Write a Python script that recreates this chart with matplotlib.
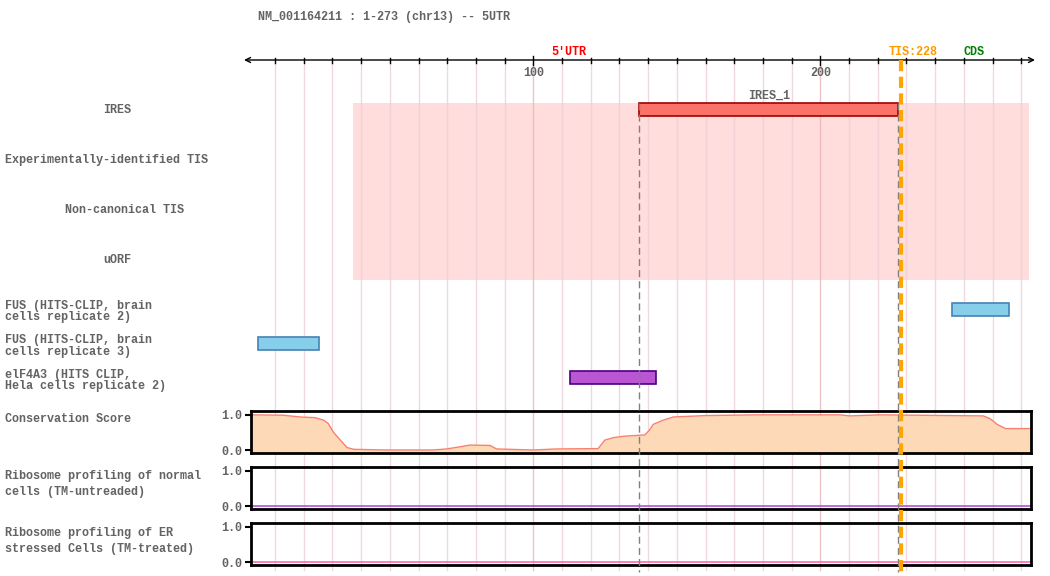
import matplotlib
matplotlib.use("Agg")
import matplotlib.pyplot as plt
from matplotlib.patches import Rectangle

W, H = 1050, 576
X0_PX = 246.3      # pixel of position 0
PX_PER = 2.87      # pixels per nucleotide

# ---- data ----
title = "NM_001164211 : 1-273 (chr13) -- 5UTR"
tick_pos = list(range(10, 280, 10))
tick_labels = {100: "100", 200: "200"}
tis_pos = 228
ires_start, ires_end = 137, 227
region_start, region_end = 37.3, 272.7

fus2 = (245.8, 265.9)
fus3 = (4.2, 25.2)
eif4a3 = (112.9, 142.9)

cons_pos = [1.5, 12.8, 18.7, 24, 26.9, 28.5, 30.4, 32.8, 35.1, 37.4, 48.9, 65,
            69.8, 74.4, 77.9, 84.9, 87.2, 100, 108, 122.6, 124.9, 127.8, 131.3,
            137, 138.9, 140.6, 141.8, 145.3, 148.8, 160.4, 177.8, 206.9, 210.3,
            220.8, 256.8, 259.2, 261.6, 264.5, 273]
cons_val = [1.0, 0.99, 0.94, 0.92, 0.85, 0.76, 0.50, 0.28, 0.07, 0.02, 0.0, 0.0,
            0.03, 0.09, 0.14, 0.13, 0.03, 0.0, 0.03, 0.04, 0.28, 0.35, 0.39,
            0.42, 0.43, 0.58, 0.73, 0.85, 0.94, 0.98, 1.0, 1.0, 0.97,
            1.0, 0.97, 0.89, 0.73, 0.61, 0.61]
ribo_pos = [1.5, 273]
ribo_normal = [0.0, 0.0]
ribo_er = [0.0, 0.0]

FONT = "Liberation Mono"
GREY = "#636363"
FS = 8.5


def px2data(px):
    return (px - X0_PX) / PX_PER


def ftext(x, y, s, **kw):
    kw.setdefault("color", GREY)
    kw.setdefault("fontsize", FS)
    kw.setdefault("family", FONT)
    kw.setdefault("fontweight", "bold")
    kw.setdefault("va", "center")
    fig.text(x / W, 1 - (y + 1) / H, s, **kw)


fig = plt.figure(figsize=(W / 100, H / 100), dpi=100)

xlim_full = (px2data(0), px2data(W))

# background axes: full figure, x in nucleotides, y in pixels
bg = fig.add_axes([0, 0, 1, 1], zorder=0)
bg.set_xlim(*xlim_full)
bg.set_ylim(H, 0)
bg.axis("off")

# shaded 5'UTR region
bg.add_patch(Rectangle((region_start, 103), region_end - region_start, 177,
                       facecolor="#ffdddd", edgecolor="none", zorder=1))

# grid lines
for p in tick_pos:
    c = "#eab4b8" if p in tick_labels else "#eccfd5"
    bg.plot([p, p], [60, 570], color=c, lw=1, alpha=0.8, zorder=2)

# axis with arrows
bg.annotate("", xy=(px2data(1035), 60), xytext=(px2data(244), 60),
            arrowprops=dict(arrowstyle="<->", lw=1, color="black",
                            mutation_scale=9, shrinkA=0, shrinkB=0), zorder=5)
for p in tick_pos:
    if p in tick_labels:
        bg.plot([p, p], [56, 65], color="black", lw=1, zorder=5)
        bg.text(p, 73, tick_labels[p], ha="center", va="center", color=GREY,
                fontsize=FS, family=FONT, fontweight="bold")
    else:
        bg.plot([p, p], [58, 63], color="black", lw=1, zorder=5)

# feature bars
bg.add_patch(Rectangle((ires_start, 103), ires_end - ires_start, 13,
                       facecolor="#fa7268", edgecolor="#a00000", lw=1.2, zorder=4))
bg.text((ires_start + ires_end) / 2, 96, "IRES_1", ha="center", va="center",
        color=GREY, fontsize=FS, family=FONT, fontweight="bold")
bg.add_patch(Rectangle((fus2[0], 303.3), fus2[1] - fus2[0], 13,
                       facecolor="#87ceeb", edgecolor="#4682b4", lw=1.2, zorder=4))
bg.add_patch(Rectangle((fus3[0], 337.3), fus3[1] - fus3[0], 13,
                       facecolor="#87ceeb", edgecolor="#4682b4", lw=1.2, zorder=4))
bg.add_patch(Rectangle((eif4a3[0], 371.3), eif4a3[1] - eif4a3[0], 13,
                       facecolor="#ba55d3", edgecolor="#4b0082", lw=1.2, zorder=4))


# signal panels
def panel(top, bottom):
    left, right = 250.7, 1030.7
    a = fig.add_axes([left / W, 1 - bottom / H, (right - left) / W, (bottom - top) / H],
                     zorder=1)
    a.set_facecolor("none")
    a.set_xlim(px2data(left), px2data(right))
    a.set_ylim(-0.085, 1.11)
    a.set_yticks([0, 1])
    a.set_yticklabels(["0.0", "1.0"], color=GREY, fontsize=FS, family=FONT,
                      fontweight="bold")
    a.set_xticks([])
    a.tick_params(axis="y", length=4, width=1.5, pad=2)
    for s in a.spines.values():
        s.set_linewidth(2)
    return a


p1 = panel(411, 453)
p1.fill_between(cons_pos, cons_val, -0.085, color="#fdd9b8", lw=0)
p1.plot(cons_pos, cons_val, color="#f88070", lw=1)

p2 = panel(467, 509)
p2.plot(ribo_pos, ribo_normal, color="#b94fd6", lw=1.2)

p3 = panel(523, 565)
p3.plot(ribo_pos, ribo_er, color="#ff69b4", lw=1.2)

# top overlay for dashed markers
top = fig.add_axes([0, 0, 1, 1], zorder=3)
top.set_facecolor("none")
top.set_xlim(*xlim_full)
top.set_ylim(H, 0)
top.axis("off")
for p in (ires_start, ires_end):
    top.plot([p, p], [103, 572], color="#808080", lw=1, dashes=(5, 3))
top.plot([tis_pos, tis_pos], [60, 572], color="#ffa500", lw=3, dashes=(2.7, 1.3))

# header texts
ftext(258, 16, title, ha="left")
ftext(568.5, 51, "5'UTR", ha="center", color="#ff0000")
ftext(913.5, 51, "TIS:228", ha="center", color="#ff9900")
ftext(974.5, 51, "CDS", ha="center", color="#008000")

# row labels
ftext(117, 109, "IRES", ha="center")
ftext(5, 159, "Experimentally-identified TIS", ha="left")
ftext(124.5, 209, "Non-canonical TIS", ha="center")
ftext(117, 259, "uORF", ha="center")
ftext(5, 310.5, "FUS (HITS-CLIP, brain\ncells replicate 2)", ha="left", linespacing=0.95)
ftext(5, 345, "FUS (HITS-CLIP, brain\ncells replicate 3)", ha="left", linespacing=0.95)
ftext(5, 379.5, "elF4A3 (HITS CLIP,\nHela cells replicate 2)", ha="left", linespacing=0.95)
ftext(5, 418, "Conservation Score", ha="left")
ftext(5, 483, "Ribosome profiling of normal\ncells (TM-untreaded)", ha="left", linespacing=1.35)
ftext(5, 540, "Ribosome profiling of ER\nstressed Cells (TM-treated)", ha="left", linespacing=1.35)

fig.savefig("out.png", dpi=100)
